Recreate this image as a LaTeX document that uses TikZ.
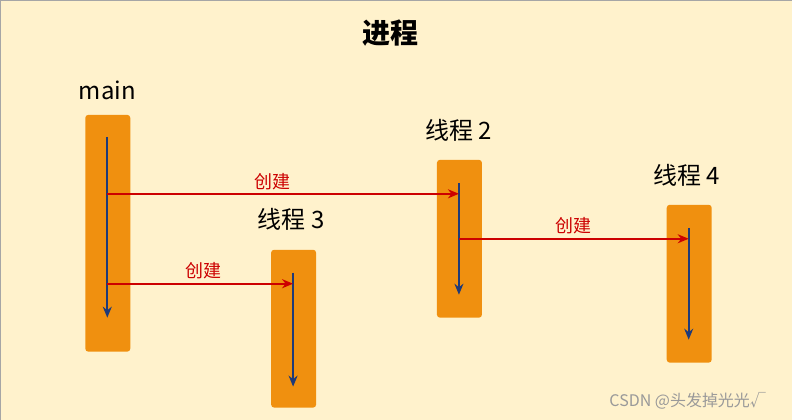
\documentclass[tikz,border=0pt]{standalone}
\usepackage{fontspec}
\setmainfont{Noto Sans CJK SC}
\usetikzlibrary{arrows.meta}
\definecolor{bg}{HTML}{FFF2CC}
\definecolor{bar}{HTML}{F0900F}
\definecolor{navy}{HTML}{1F3A78}
\definecolor{redc}{HTML}{CC0000}
\tikzset{
 thread/.style={fill=bar,draw=none,rounded corners=3pt,minimum width=45pt,inner sep=0pt},
 life/.style={navy,line width=2.4pt,-{Stealth[length=11pt,width=9pt]}},
 spawn/.style={redc,line width=2pt,-{Stealth[length=11pt,width=9pt]}},
 lbl/.style={font=\fontsize{24}{28}\selectfont,text=black},
 clbl/.style={font=\fontsize{18}{21}\selectfont,text=redc},
}
\begin{document}
\begin{tikzpicture}[x=1pt,y=-1pt]
\fill[bg] (0,0) rectangle (792,420);
\draw[gray!70,line width=0.8pt] (0,420) -- (0,0.5) -- (792,0.5);
\node[font=\fontsize{28}{32}\selectfont\bfseries] (title) at (390,33) {进程};
\node[lbl] (lmain) at (107,90) {main};
\node[lbl] (l2) at (459,130) {线程 2};
\node[lbl] (l3) at (291,220) {线程 3};
\node[lbl] (l4) at (687,176) {线程 4};
\node[thread,minimum height=237pt] (bmain) at (107.5,233.5) {};
\node[thread,minimum height=158pt] (b3) at (293.5,329) {};
\node[thread,minimum height=158pt] (b2) at (459.5,239) {};
\node[thread,minimum height=158pt] (b4) at (689.5,284) {};
\coordinate (m1) at (107,137); \coordinate (m2) at (107,318);
\coordinate (t31) at (293,273); \coordinate (t32) at (293,387);
\coordinate (t21) at (459,183); \coordinate (t22) at (459,295);
\coordinate (t41) at (689,228); \coordinate (t42) at (689,340);
\draw[life] (m1) -- (m2);
\draw[life] (t31) -- (t32);
\draw[life] (t21) -- (t22);
\draw[life] (t41) -- (t42);
\coordinate (s1) at (107,194); \coordinate (s2) at (107,284); \coordinate (s3) at (459,239);
\draw[spawn] (s1) -- (t21 |- s1) node[clbl,pos=0.47,above=0pt] (c1) {创建};
\draw[spawn] (s2) -- (t31 |- s2) node[clbl,pos=0.52,above=0pt] (c2) {创建};
\draw[spawn] (s3) -- (t41 |- s3) node[clbl,pos=0.5,above=0pt] (c3) {创建};
\node[font=\fontsize{16}{18}\selectfont,text=gray!80] (wm) at (688,401) {CSDN @头发掉光光√};
\end{tikzpicture}
\end{document}
